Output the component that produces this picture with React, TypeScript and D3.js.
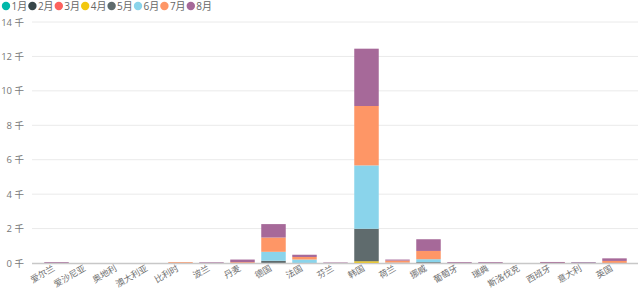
import React from "react";
import * as d3 from "d3";

const countries = [
  "爱尔兰", "爱沙尼亚", "奥地利", "澳大利亚", "比利时", "波兰", "丹麦", "德国", "法国", "芬兰",
  "韩国", "荷兰", "挪威", "葡萄牙", "瑞典", "斯洛伐克", "西班牙", "意大利", "英国",
];
const months = ["1月", "2月", "3月", "4月", "5月", "6月", "7月", "8月"];
const colors = ["#01B8AA", "#374649", "#FD625E", "#F2C80F", "#5F6B6D", "#8AD4EB", "#FE9666", "#A66999"];

// values in thousands, one array per month, same order as countries
const jan = [0, 0, 0, 0, 0, 0, 0, 0, 0, 0, 0, 0, 0, 0, 0, 0, 0, 0, 0];
const feb = [0, 0, 0, 0, 0, 0, 0, 0, 0, 0, 0, 0, 0, 0, 0, 0, 0, 0, 0];
const mar = [0, 0, 0, 0, 0, 0, 0, 0, 0, 0, 0, 0, 0, 0, 0, 0, 0.02, 0.01, 0];
const apr = [0, 0, 0, 0, 0, 0, 0, 0, 0, 0, 0.1, 0, 0, 0, 0, 0, 0, 0, 0];
const may = [0, 0, 0, 0, 0, 0, 0, 0.13, 0, 0, 1.89, 0, 0.05, 0, 0, 0, 0, 0, 0];
const jun = [0, 0, 0, 0, 0, 0, 0, 0.52, 0.2, 0, 3.68, 0.02, 0.17, 0, 0, 0, 0, 0.02, 0];
const jul = [0, 0, 0, 0, 0.05, 0, 0.05, 0.83, 0.15, 0, 3.45, 0.12, 0.48, 0, 0, 0, 0.02, 0, 0.12];
const aug = [0.05, 0, 0, 0, 0, 0.04, 0.15, 0.78, 0.13, 0.03, 3.33, 0.06, 0.68, 0.05, 0.05, 0, 0.02, 0.01, 0.15];
const series = [jan, feb, mar, apr, may, jun, jul, aug];
const yTicks = [0, 2, 4, 6, 8, 10, 12, 14];

const W = 640;
const H = 291;
const font = "'Segoe UI', 'Open Sans', 'Noto Sans CJK SC', sans-serif";

export default function App() {
  const rows = countries.map((c, i) => {
    const r: any = { country: c };
    months.forEach((m, k) => (r[m] = series[k][i]));
    return r;
  });
  const stacked = d3.stack().keys(months)(rows);

  const x = d3.scaleBand().domain(countries).range([41, 630]).paddingInner(0.21).paddingOuter(0.105);
  const y = d3.scaleLinear().domain([0, 14]).range([263, 22]);

  return (
    <svg width={W} height={H} style={{ position: "absolute", left: 0, top: 0, background: "#fff" }} fontFamily={font}>
      {/* legend */}
      {months.map((m, k) => (
        <g key={m} transform={`translate(${6 + k * 26.4},6)`}>
          <circle r={4.2} fill={colors[k]} />
          <text x={5.5} y={3.5} fontSize={10} fill="#666">{m}</text>
        </g>
      ))}
      {/* grid + y labels */}
      {yTicks.map((t) => (
        <g key={t}>
          {t > 0 && <line x1={32} x2={638} y1={y(t)} y2={y(t)} stroke="#eaeaea" strokeWidth={1} />}
          <text x={24} y={y(t) + 3.5} textAnchor="end" fontSize={9.5} fill="#777">{`${t} 千`}</text>
        </g>
      ))}
      {/* bars */}
      {stacked.map((s, k) => (
        <g key={s.key} fill={colors[k]}>
          {s.map((d, i) => {
            const h = y(d[0]) - y(d[1]);
            if (h <= 0) return null;
            return (
              <rect key={i} x={x(countries[i])} width={x.bandwidth()} y={y(d[1])} height={Math.max(h, 1)} />
            );
          })}
        </g>
      ))}
      <line x1={32} x2={638} y1={263.5} y2={263.5} stroke="#c8c8c8" strokeWidth={1.5} />
      {/* x labels */}
      {countries.map((c) => {
        const cx = (x(c) as number) + x.bandwidth() / 2 - 1;
        return (
          <text key={c} transform={`translate(${cx},${270}) rotate(-30)`} textAnchor="end" fontSize={8.8} fill="#707070">
            {c}
          </text>
        );
      })}
    </svg>
  );
}
